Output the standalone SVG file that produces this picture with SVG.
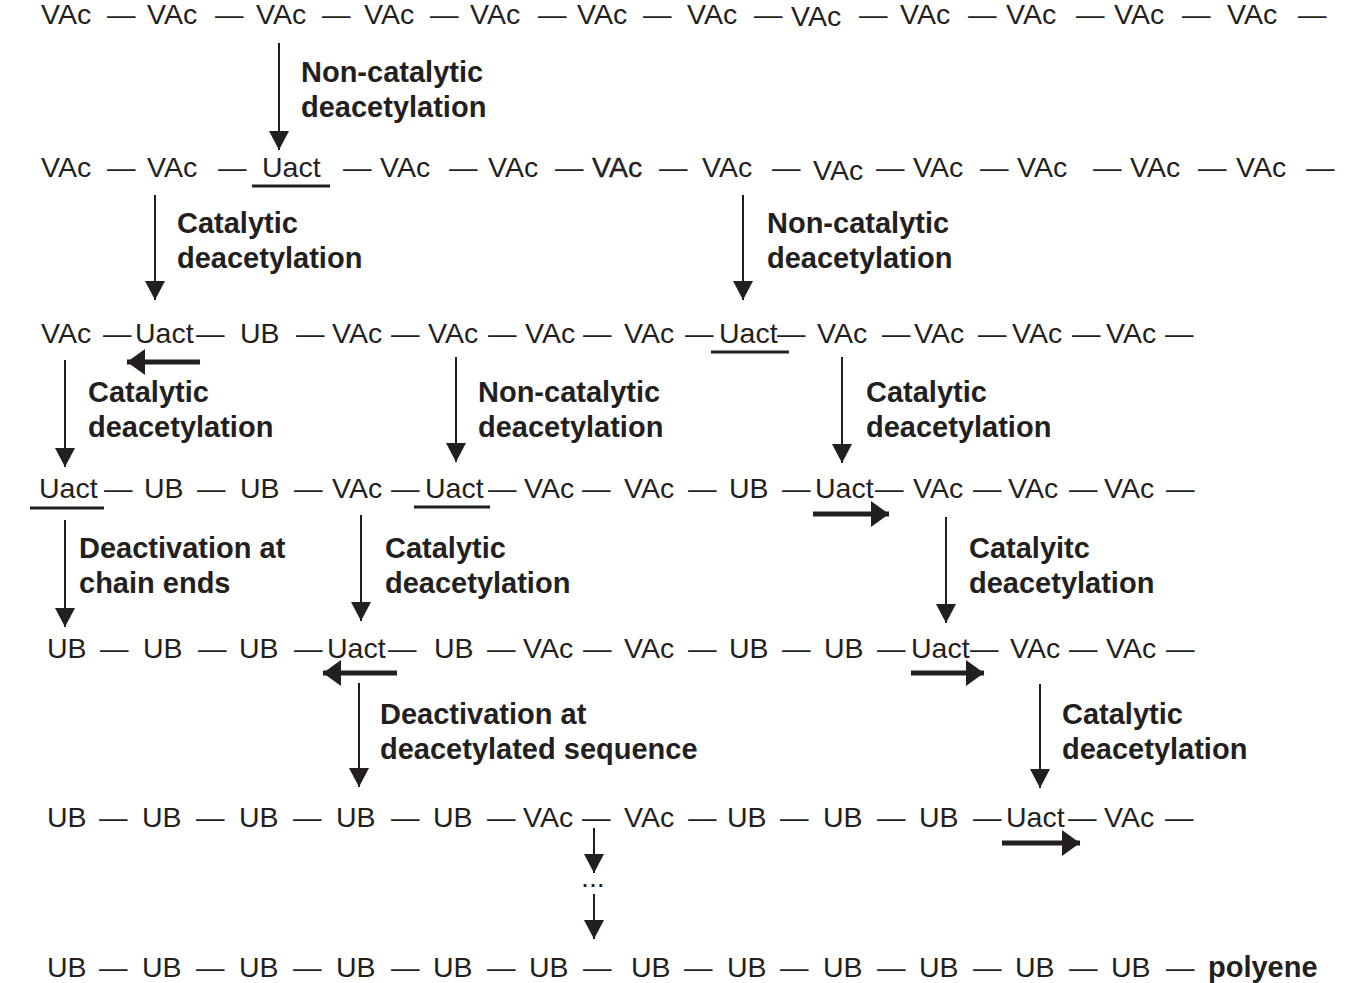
<svg xmlns="http://www.w3.org/2000/svg" width="1351" height="983" viewBox="0 0 1351 983">
<defs>
<style>
text{font-family:"Liberation Sans",Arial,sans-serif;fill:#231f20}
.u{font-size:28.5px}
.d{font-size:28.5px}
.b{font-size:29px;font-weight:bold}
.hv{stroke:#231f20;stroke-width:0.4px}
.thin{stroke:#231f20;stroke-width:2;fill:none;marker-end:url(#ah)}
.thick{stroke:#231f20;stroke-width:5;fill:none;marker-end:url(#ahb)}
.ul{stroke:#231f20;stroke-width:3}
</style>
<marker id="ah" markerUnits="userSpaceOnUse" markerWidth="22" markerHeight="22" refX="19" refY="10" orient="auto" viewBox="0 0 22 22"><path d="M0,0 L19,10 L0,20 z" fill="#231f20"/></marker>
<marker id="ahb" markerUnits="userSpaceOnUse" markerWidth="20" markerHeight="28" refX="18" refY="13" orient="auto" viewBox="0 0 20 28"><path d="M0,0 L18,13 L0,26 z" fill="#231f20"/></marker>
</defs>
<rect width="1351" height="983" fill="#fff"/>

<!-- Row 1 -->
<g id="row1">
<g id="r1n1"><text class="u" x="41" y="24">VAc</text></g>
<g id="r1n2"><text class="u" x="147" y="24">VAc</text></g>
<g id="r1n3"><text class="u" x="256" y="24">VAc</text></g>
<g id="r1n4"><text class="u" x="364" y="24">VAc</text></g>
<g id="r1n5"><text class="u" x="470" y="24">VAc</text></g>
<g id="r1n6"><text class="u" x="577" y="24">VAc</text></g>
<g id="r1n7"><text class="u" x="687" y="24">VAc</text></g>
<g id="r1n8"><text class="u" x="791" y="26">VAc</text></g>
<g id="r1n9"><text class="u" x="900" y="24">VAc</text></g>
<g id="r1n10"><text class="u" x="1006" y="24">VAc</text></g>
<g id="r1n11"><text class="u" x="1114" y="24">VAc</text></g>
<g id="r1n12"><text class="u" x="1227" y="24">VAc</text></g>
</g>

<!-- Row 2 -->
<g id="row2">
<g id="r2n1"><text class="u" x="41" y="177">VAc</text></g>
<g id="r2n2"><text class="u" x="147" y="177">VAc</text></g>
<g id="r2n3"><text class="u" x="262" y="177">Uact</text><line class="ul" x1="252" y1="186" x2="330" y2="186"/></g>
<g id="r2n4"><text class="u" x="380" y="177">VAc</text></g>
<g id="r2n5"><text class="u" x="488" y="177">VAc</text></g>
<g id="r2n6"><text class="u hv" x="592" y="177">VAc</text></g>
<g id="r2n7"><text class="u" x="702" y="177">VAc</text></g>
<g id="r2n8"><text class="u" x="813" y="180">VAc</text></g>
<g id="r2n9"><text class="u" x="913" y="177">VAc</text></g>
<g id="r2n10"><text class="u" x="1017" y="177">VAc</text></g>
<g id="r2n11"><text class="u" x="1130" y="177">VAc</text></g>
<g id="r2n12"><text class="u" x="1236" y="177">VAc</text></g>
</g>

<!-- Row 3 -->
<g id="row3">
<g id="r3n1"><text class="u" x="41" y="343">VAc</text></g>
<g id="r3n2"><text class="u" x="135" y="343">Uact</text></g>
<g id="r3n3"><text class="u" x="240" y="343">UB</text></g>
<g id="r3n4"><text class="u" x="332" y="343">VAc</text></g>
<g id="r3n5"><text class="u" x="428" y="343">VAc</text></g>
<g id="r3n6"><text class="u" x="525" y="343">VAc</text></g>
<g id="r3n7"><text class="u" x="624" y="343">VAc</text></g>
<g id="r3n8"><text class="u" x="719" y="343">Uact</text><line class="ul" x1="711" y1="352" x2="789" y2="352"/></g>
<g id="r3n9"><text class="u" x="817" y="343">VAc</text></g>
<g id="r3n10"><text class="u" x="914" y="343">VAc</text></g>
<g id="r3n11"><text class="u" x="1012" y="343">VAc</text></g>
<g id="r3n12"><text class="u" x="1106" y="343">VAc</text></g>
</g>

<!-- Row 4 -->
<g id="row4">
<g id="r4n1"><text class="u" x="39" y="498">Uact</text><line class="ul" x1="30" y1="508" x2="104" y2="508"/></g>
<g id="r4n2"><text class="u" x="144" y="498">UB</text></g>
<g id="r4n3"><text class="u" x="240" y="498">UB</text></g>
<g id="r4n4"><text class="u" x="332" y="498">VAc</text></g>
<g id="r4n5"><text class="u" x="425" y="498">Uact</text><line class="ul" x1="414" y1="507" x2="490" y2="507"/></g>
<g id="r4n6"><text class="u" x="524" y="498">VAc</text></g>
<g id="r4n7"><text class="u" x="624" y="498">VAc</text></g>
<g id="r4n8"><text class="u" x="729" y="498">UB</text></g>
<g id="r4n9"><text class="u" x="815" y="498">Uact</text></g>
<g id="r4n10"><text class="u" x="913" y="498">VAc</text></g>
<g id="r4n11"><text class="u" x="1008" y="498">VAc</text></g>
<g id="r4n12"><text class="u" x="1104" y="498">VAc</text></g>
</g>

<!-- Row 5 -->
<g id="row5">
<g id="r5n1"><text class="u" x="47" y="658">UB</text></g>
<g id="r5n2"><text class="u" x="143" y="658">UB</text></g>
<g id="r5n3"><text class="u" x="239" y="658">UB</text></g>
<g id="r5n4"><text class="u" x="327" y="658">Uact</text></g>
<g id="r5n5"><text class="u" x="434" y="658">UB</text></g>
<g id="r5n6"><text class="u" x="523" y="658">VAc</text></g>
<g id="r5n7"><text class="u" x="624" y="658">VAc</text></g>
<g id="r5n8"><text class="u" x="729" y="658">UB</text></g>
<g id="r5n9"><text class="u" x="824" y="658">UB</text></g>
<g id="r5n10"><text class="u" x="911" y="658">Uact</text></g>
<g id="r5n11"><text class="u" x="1010" y="658">VAc</text></g>
<g id="r5n12"><text class="u" x="1106" y="658">VAc</text></g>
</g>

<!-- Row 6 -->
<g id="row6">
<g id="r6n1"><text class="u" x="47" y="827">UB</text></g>
<g id="r6n2"><text class="u" x="142" y="827">UB</text></g>
<g id="r6n3"><text class="u" x="239" y="827">UB</text></g>
<g id="r6n4"><text class="u" x="336" y="827">UB</text></g>
<g id="r6n5"><text class="u" x="433" y="827">UB</text></g>
<g id="r6n6"><text class="u" x="523" y="827">VAc</text></g>
<g id="r6n7"><text class="u" x="624" y="827">VAc</text></g>
<g id="r6n8"><text class="u" x="727" y="827">UB</text></g>
<g id="r6n9"><text class="u" x="823" y="827">UB</text></g>
<g id="r6n10"><text class="u" x="919" y="827">UB</text></g>
<g id="r6n11"><text class="u" x="1006" y="827">Uact</text></g>
<g id="r6n12"><text class="u" x="1104" y="827">VAc</text></g>
</g>

<!-- Row 7 -->
<g id="row7">
<g id="r7n1"><text class="u" x="47" y="977">UB</text></g>
<g id="r7n2"><text class="u" x="142" y="977">UB</text></g>
<g id="r7n3"><text class="u" x="239" y="977">UB</text></g>
<g id="r7n4"><text class="u" x="336" y="977">UB</text></g>
<g id="r7n5"><text class="u" x="433" y="977">UB</text></g>
<g id="r7n6"><text class="u" x="529" y="977">UB</text></g>
<g id="r7n7"><text class="u" x="631" y="977">UB</text></g>
<g id="r7n8"><text class="u" x="727" y="977">UB</text></g>
<g id="r7n9"><text class="u" x="823" y="977">UB</text></g>
<g id="r7n10"><text class="u" x="919" y="977">UB</text></g>
<g id="r7n11"><text class="u" x="1015" y="977">UB</text></g>
<g id="r7n12"><text class="u" x="1111" y="977">UB</text></g>
<g id="r7n13"><text class="b" x="1208" y="977">polyene</text></g>
</g>

<!-- Bonds (dashes) -->
<g id="bonds" class="d">
<text class="d" y="24"><tspan x="107">—</tspan><tspan x="215">—</tspan><tspan x="322">—</tspan><tspan x="430">—</tspan><tspan x="538">—</tspan><tspan x="643">—</tspan><tspan x="754">—</tspan><tspan x="859">—</tspan><tspan x="968">—</tspan><tspan x="1076">—</tspan><tspan x="1182">—</tspan><tspan x="1298">—</tspan></text>
<text class="d" y="177"><tspan x="107">—</tspan><tspan x="218">—</tspan><tspan x="343">—</tspan><tspan x="449">—</tspan><tspan x="555">—</tspan><tspan x="659">—</tspan><tspan x="772">—</tspan><tspan x="876">—</tspan><tspan x="980">—</tspan><tspan x="1093">—</tspan><tspan x="1198">—</tspan><tspan x="1306">—</tspan></text>
<text class="d" y="343"><tspan x="103">—</tspan><tspan x="196">—</tspan><tspan x="296">—</tspan><tspan x="391">—</tspan><tspan x="488">—</tspan><tspan x="583">—</tspan><tspan x="685">—</tspan><tspan x="777">—</tspan><tspan x="882">—</tspan><tspan x="978">—</tspan><tspan x="1072">—</tspan><tspan x="1165">—</tspan></text>
<text class="d" y="498"><tspan x="104">—</tspan><tspan x="197">—</tspan><tspan x="294">—</tspan><tspan x="391">—</tspan><tspan x="488">—</tspan><tspan x="582">—</tspan><tspan x="688">—</tspan><tspan x="782">—</tspan><tspan x="875">—</tspan><tspan x="973">—</tspan><tspan x="1069">—</tspan><tspan x="1166">—</tspan></text>
<text class="d" y="658"><tspan x="100">—</tspan><tspan x="198">—</tspan><tspan x="294">—</tspan><tspan x="388">—</tspan><tspan x="487">—</tspan><tspan x="583">—</tspan><tspan x="688">—</tspan><tspan x="782">—</tspan><tspan x="877">—</tspan><tspan x="970">—</tspan><tspan x="1069">—</tspan><tspan x="1166">—</tspan></text>
<text class="d" y="827"><tspan x="99">—</tspan><tspan x="196">—</tspan><tspan x="293">—</tspan><tspan x="391">—</tspan><tspan x="487">—</tspan><tspan x="582">—</tspan><tspan x="688">—</tspan><tspan x="780">—</tspan><tspan x="877">—</tspan><tspan x="973">—</tspan><tspan x="1068">—</tspan><tspan x="1165">—</tspan></text>
<text class="d" y="977"><tspan x="99">—</tspan><tspan x="196">—</tspan><tspan x="293">—</tspan><tspan x="391">—</tspan><tspan x="487">—</tspan><tspan x="583">—</tspan><tspan x="684">—</tspan><tspan x="780">—</tspan><tspan x="877">—</tspan><tspan x="973">—</tspan><tspan x="1069">—</tspan><tspan x="1166">—</tspan></text>
</g>

<!-- Connectors -->
<g id="connectors">
<line class="thin" x1="279" y1="43" x2="279" y2="150"/>
<line class="thin" x1="155" y1="195" x2="155" y2="300"/>
<line class="thin" x1="743" y1="195" x2="743" y2="300"/>
<line class="thin" x1="65" y1="360" x2="65" y2="467"/>
<line class="thin" x1="456" y1="357" x2="456" y2="462"/>
<line class="thin" x1="842" y1="357" x2="842" y2="463"/>
<line class="thin" x1="65" y1="520" x2="65" y2="627"/>
<line class="thin" x1="361" y1="515" x2="361" y2="621"/>
<line class="thin" x1="946" y1="517" x2="946" y2="623"/>
<line class="thin" x1="359" y1="683" x2="359" y2="787"/>
<line class="thin" x1="1040" y1="684" x2="1040" y2="788"/>
<line class="thin" x1="594" y1="828" x2="594" y2="873"/>
<line class="thin" x1="594" y1="894" x2="594" y2="939"/>
<line class="thick" x1="200" y1="362" x2="127" y2="362"/>
<line class="thick" x1="813" y1="514" x2="889" y2="514"/>
<line class="thick" x1="397" y1="673" x2="323" y2="673"/>
<line class="thick" x1="911" y1="673" x2="984" y2="673"/>
<line class="thick" x1="1002" y1="843" x2="1080" y2="843"/>
</g>

<!-- Labels -->
<g id="labels">
<text class="b" x="301" y="82">Non-catalytic</text><text class="b" x="301" y="117">deacetylation</text>
<text class="b" x="177" y="233">Catalytic</text><text class="b" x="177" y="268">deacetylation</text>
<text class="b" x="767" y="233">Non-catalytic</text><text class="b" x="767" y="268">deacetylation</text>
<text class="b" x="88" y="402">Catalytic</text><text class="b" x="88" y="437">deacetylation</text>
<text class="b" x="478" y="402">Non-catalytic</text><text class="b" x="478" y="437">deacetylation</text>
<text class="b" x="866" y="402">Catalytic</text><text class="b" x="866" y="437">deacetylation</text>
<text class="b" x="79" y="558">Deactivation at</text><text class="b" x="79" y="593">chain ends</text>
<text class="b" x="385" y="558">Catalytic</text><text class="b" x="385" y="593">deacetylation</text>
<text class="b" x="969" y="558">Catalyitc</text><text class="b" x="969" y="593">deacetylation</text>
<text class="b" x="380" y="724">Deactivation at</text><text class="b" x="380" y="759">deacetylated sequence</text>
<text class="b" x="1062" y="724">Catalytic</text><text class="b" x="1062" y="759">deacetylation</text>
<text class="u" x="581" y="887">...</text>
</g>
</svg>
